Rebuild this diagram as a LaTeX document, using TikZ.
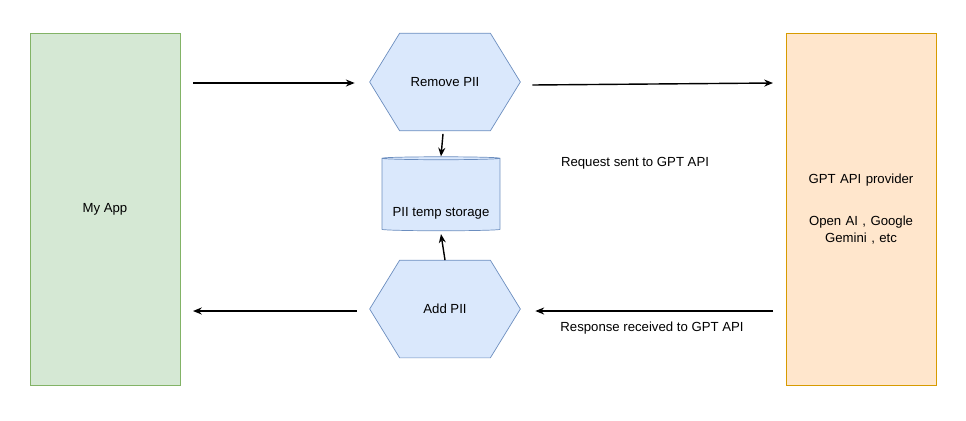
\documentclass[tikz,border=0pt]{standalone}
\usepackage{fontspec}
\setmainfont{Liberation Sans}
\usetikzlibrary{shapes.geometric,calc,arrows.meta}
\definecolor{appfill}{HTML}{D5E8D4}
\definecolor{appline}{HTML}{82B366}
\definecolor{gptfill}{HTML}{FFE6CC}
\definecolor{gptline}{HTML}{D79B00}
\definecolor{piifill}{HTML}{DAE8FC}
\definecolor{piiline}{HTML}{6C8EBF}
\begin{document}
\begin{tikzpicture}
  [x=0.02cm,y=-0.02cm,font=\fontsize{7.5}{10}\selectfont,
   box/.style={rectangle,minimum width=3cm,minimum height=7.04cm},
   hex/.style={rectangle,minimum width=3cm,minimum height=1.94cm},
   arr/.style={-{Stealth[length=5pt,width=4pt]},thick}]
  \useasboundingbox (0,0) rectangle (966,420);

  \node[box,draw=appline,fill=appfill] (app) at (105,209) {My App};
  \node[box,draw=gptline,fill=gptfill,align=center,text width=2.3cm] (gpt) at (861,209)
    {GPT API provider\\[14pt]Open AI , Google Gemini , etc};

  \node[hex] (rem) at (445,82) {};
  \node[hex] (add) at (445,309) {};
  \foreach \h in {rem,add}
    \draw[piiline,fill=piifill] (\h.west) -- ($(\h.north west)+(30,0)$) -- ($(\h.north east)+(-30,0)$)
      -- (\h.east) -- ($(\h.south east)+(-30,0)$) -- ($(\h.south west)+(30,0)$) -- cycle;
  \node at (rem) {Remove PII};
  \node at (add) {Add PII};

  \node[cylinder,shape border rotate=90,aspect=0.25,draw=piiline,fill=piifill,
    minimum width=2.36cm,minimum height=1.48cm] (store) at (441,195) {};
  \node at (441,213) {PII temp storage};

  \coordinate (a1) at (193,83);
  \coordinate (a2) at (193,311);
  \coordinate (g1) at (773,83);
  \coordinate (g2) at (773,311);

  \draw[arr] (a1) -- ($(rem.west)+(-15,1)$);
  \draw[arr] ($(rem.east)+(12,3)$) -- (g1);
  \draw[arr] ($(rem.south)+(-2,3)$) -- (store.top);
  \draw[arr] (add.north) -- ($(store.bottom)+(0,3)$);
  \draw[arr] (g2) -- ($(add.east)+(15,2)$);
  \draw[arr] ($(add.west)+(-13,2)$) -- (a2);

  \node (req) at (635,163) {Request sent to GPT API};
  \node (resp) at (652,328) {Response received to GPT API};
\end{tikzpicture}
\end{document}
